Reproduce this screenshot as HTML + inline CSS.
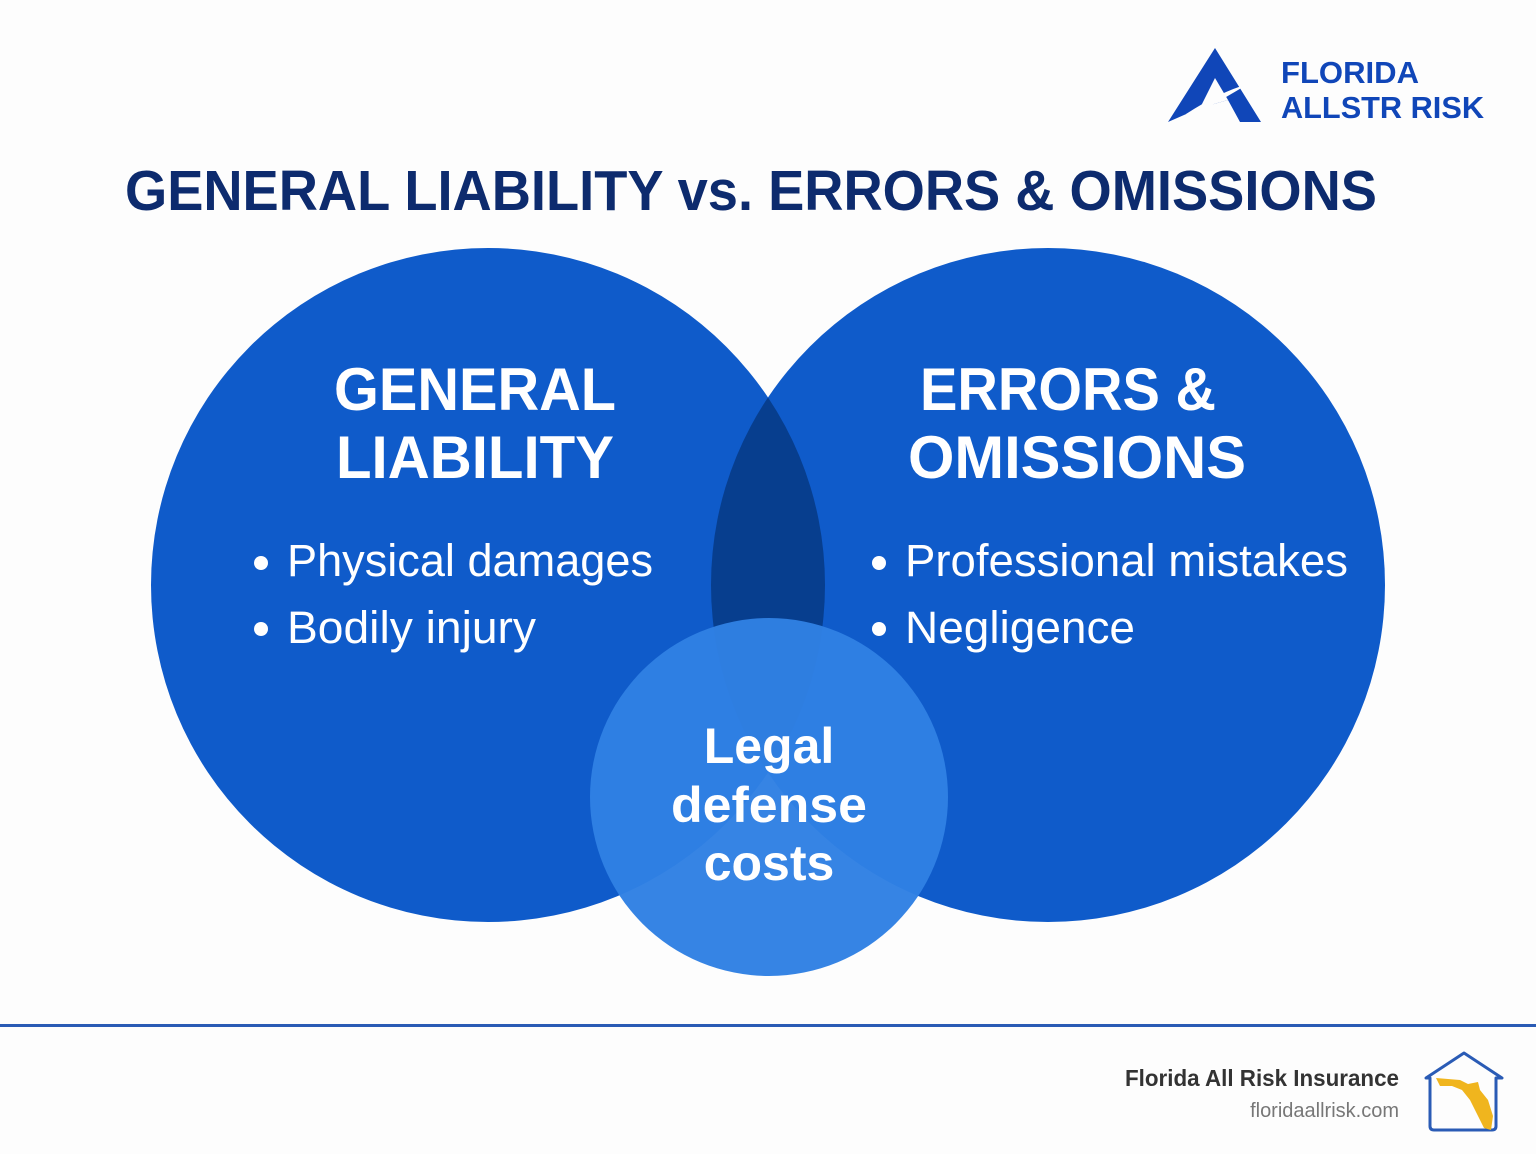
<!DOCTYPE html>
<html><head><style>
body{margin:0;width:1536px;height:1154px;background:#fdfdfd;overflow:hidden;font-family:"Liberation Sans",sans-serif;}
</style></head><body>
<svg width="1536" height="1154" viewBox="0 0 1536 1154" xmlns="http://www.w3.org/2000/svg" style="position:absolute;left:0;top:0">
<defs><clipPath id="lc"><circle cx="488" cy="585" r="337"/></clipPath></defs>
<!-- logo -->
<path d="M1168 122 L1215 48 L1261 122 L1240 122 L1228 100 L1200 108 Z" fill="#1046b8"/>
<path d="M1200 108 L1215 78 L1228 100 Z" fill="#fdfdfd"/>
<path d="M1186 114 Q1220 92 1248 84 Q1225 98 1196 114 Z" fill="#fdfdfd"/>
<text x="1281" y="83" font-size="31" font-weight="bold" fill="#1046b8" textLength="138" lengthAdjust="spacingAndGlyphs">FLORIDA</text>
<text x="1281" y="118" font-size="31" font-weight="bold" fill="#1046b8" textLength="203" lengthAdjust="spacingAndGlyphs">ALLSTR RISK</text>
<text x="751" y="210" text-anchor="middle" font-size="57" font-weight="bold" fill="#0d2b6e" textLength="1252" lengthAdjust="spacingAndGlyphs">GENERAL LIABILITY vs. ERRORS &amp; OMISSIONS</text>
<circle cx="488" cy="585" r="337" fill="#0f5bca"/>
<circle cx="1048" cy="585" r="337" fill="#0f5bca"/>
<circle cx="1048" cy="585" r="337" fill="#073e8e" clip-path="url(#lc)"/>
<circle cx="769" cy="797" r="179" fill="#3080e3" fill-opacity="0.97"/>
<g fill="#fff" font-weight="bold" font-size="60" text-anchor="middle">
<text x="475" y="410" textLength="282" lengthAdjust="spacingAndGlyphs">GENERAL</text>
<text x="475" y="478" textLength="278" lengthAdjust="spacingAndGlyphs">LIABILITY</text>
<text x="1068" y="410" textLength="296" lengthAdjust="spacingAndGlyphs">ERRORS &amp;</text>
<text x="1077" y="478" textLength="338" lengthAdjust="spacingAndGlyphs">OMISSIONS</text>
</g>
<g fill="#fff" font-size="45">
<circle cx="261" cy="563" r="7"/><text x="287" y="576" textLength="366" lengthAdjust="spacingAndGlyphs">Physical damages</text>
<circle cx="261" cy="629" r="7"/><text x="287" y="643" textLength="249" lengthAdjust="spacingAndGlyphs">Bodily injury</text>
<circle cx="879" cy="563" r="7"/><text x="905" y="576" textLength="443" lengthAdjust="spacingAndGlyphs">Professional mistakes</text>
<circle cx="879" cy="629" r="7"/><text x="905" y="643" textLength="230" lengthAdjust="spacingAndGlyphs">Negligence</text>
</g>
<g fill="#fff" font-weight="bold" font-size="50" text-anchor="middle">
<text x="769" y="763">Legal</text>
<text x="769" y="822" textLength="196" lengthAdjust="spacingAndGlyphs">defense</text>
<text x="769" y="880">costs</text>
</g>
<rect x="0" y="1024" width="1536" height="3" fill="#2a5bb5"/>
<text x="1399" y="1086" text-anchor="end" font-size="23" font-weight="bold" fill="#333" textLength="274" lengthAdjust="spacingAndGlyphs">Florida All Risk Insurance</text>
<text x="1399" y="1117" text-anchor="end" font-size="20" fill="#777">floridaallrisk.com</text>
<path d="M1426 1078 L1464 1053 L1502 1078 L1496 1078 L1496 1126 Q1496 1130 1492 1130 L1434 1130 Q1430 1130 1430 1126 L1430 1078 Z" fill="none" stroke="#2a5bb5" stroke-width="3" stroke-linejoin="round"/>
<path d="M1436 1078 L1460 1080 L1468 1084 L1478 1082 L1480 1090 L1488 1100 L1493 1116 L1491 1130 L1484 1128 L1476 1112 L1470 1100 L1462 1090 L1452 1086 L1440 1086 Z" fill="#f0b51e"/>
</svg>
</body></html>
